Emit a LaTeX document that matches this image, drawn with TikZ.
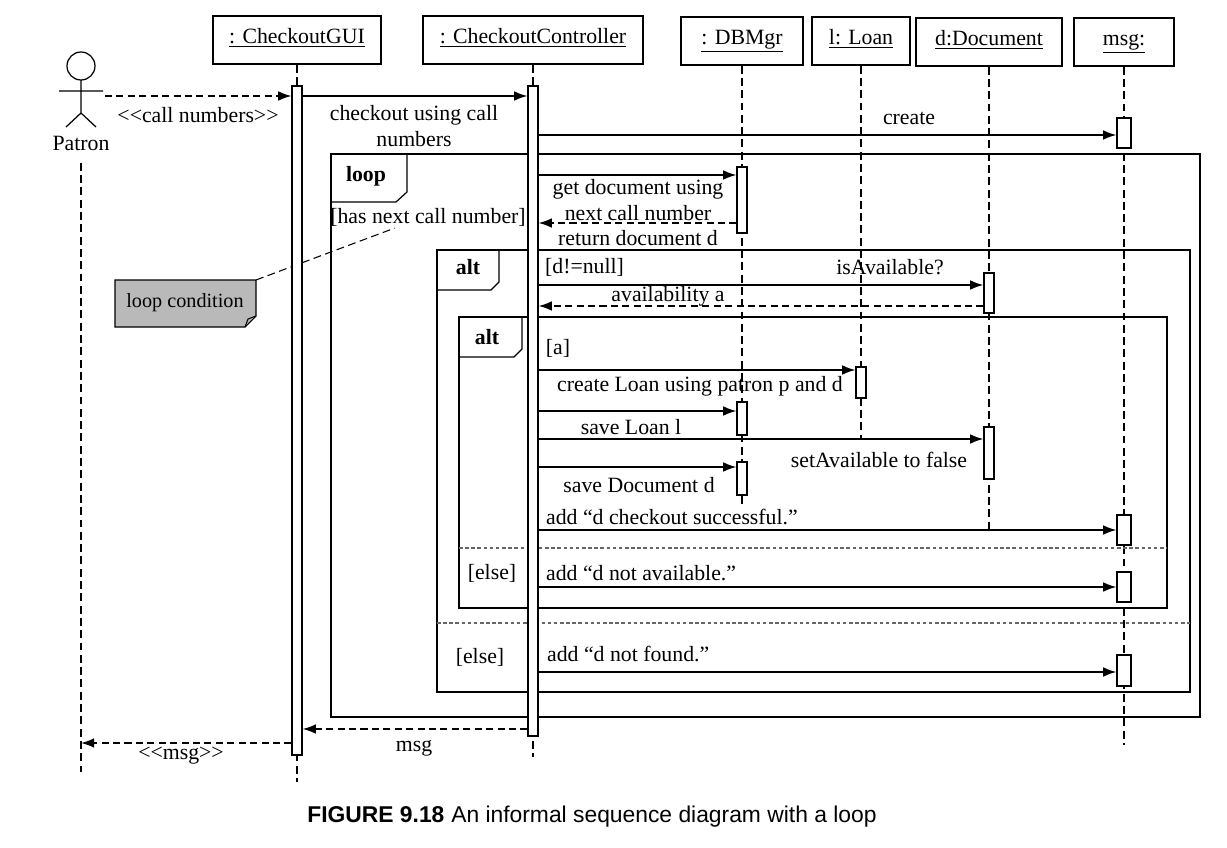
\documentclass[tikz,border=0pt]{standalone}
\usepackage{fontspec}
\setmainfont{Liberation Serif}
\setsansfont{Liberation Sans}
\usetikzlibrary{arrows.meta,fit,positioning}

\begin{document}
\begin{tikzpicture}[x=0.02cm, y=-0.02cm,
	every node/.style = {font=\fontsize{12.4}{14.5}\selectfont, inner sep=1pt},
	obj/.style = {draw, line width=0.7pt, inner sep=0pt, minimum height=0.96cm, text height=9pt, text depth=5pt},
	act/.style = {draw, fill=white, line width=0.7pt, inner sep=0pt},
	life/.style = {line width=0.6pt, dash pattern=on 4.5pt off 2.5pt},
	call/.style = {-{Latex[length=7.5pt,width=5.5pt]}, line width=0.9pt},
	ret/.style = {-{Latex[length=7.5pt,width=5.5pt]}, line width=0.9pt, dash pattern=on 4pt off 2.5pt},
	frame/.style = {line width=0.7pt},
	sep/.style = {line width=0.8pt, dash pattern=on 2pt off 1.5pt, black!60},
	head/.style = {font=\fontsize{12.4}{14.5}\selectfont\bfseries}]
	\path[fill=white, use as bounding box] (0,0) rectangle (1227,848);

	% objects
	\node[obj, minimum width=3.36cm] (gui) at (297,40) {\underline{: CheckoutGUI}};
	\node[obj, minimum width=4.4cm] (ctrl) at (533,40) {\underline{: CheckoutController}};
	\node[obj, minimum width=2.44cm] (db) at (742,41) {\underline{: DBMgr}};
	\node[obj, minimum width=1.96cm] (loan) at (861,41) {\underline{l: Loan}};
	\node[obj, minimum width=2.92cm] (doc) at (989,42) {\underline{d:Document}};
	\node[obj, minimum width=2cm] (msg) at (1124,42) {\underline{msg:}};

	% patron
	\draw[line width=0.7pt] (81,66) circle [radius=0.28cm];
	\draw[line width=0.7pt] (81,80) -- (81,113) (59,91) -- (103,91)
		(66,127) -- (81,113) -- (96,127);
	\node (patron) at (81,143) {Patron};

	% lifelines
	\coordinate (patE) at (81,772);
	\coordinate (guiE) at (297,782);
	\coordinate (ctrlE) at (533,757);
	\coordinate (dbE) at (742,505);
	\coordinate (loanE) at (861,439);
	\coordinate (docE) at (989,530);
	\coordinate (msgE) at (1124,745);
	\draw[life, shorten <=6pt] (patron) -- (patE);
	\draw[life] (gui) -- (guiE);
	\draw[life] (ctrl) -- (ctrlE);
	\draw[life] (db) -- (dbE);
	\draw[life] (loan) -- (loanE);
	\draw[life] (doc) -- (docE);
	\draw[life] (msg) -- (msgE);

	% frames
	\draw[frame] (331,154) rectangle (1200,717);
	\draw[frame] (331,202) -- (396,202) -- (407,192) -- (407,154);
	\draw[frame] (437,250) rectangle (1190,692);
	\draw[frame] (437,290) -- (491,290) -- (499,282) -- (499,250);
	\draw[frame] (459,317) rectangle (1167,608);
	\draw[frame] (459,357) -- (514,357) -- (522,349) -- (522,317);
	\draw[sep] (459,548) -- (1167,548);
	\draw[sep] (437,623) -- (1190,623);
	\node[head] (loop) at (366,176) {loop};
	\node (cond) at (428,217) {[has next call number]};
	\node[head] (alt1) at (468,267) {alt};
	\node[anchor=west] (g1) at (543,267) {[d!=null]};
	\node[head] (alt2) at (487,337) {alt};
	\node (g2) at (558,348) {[a]};
	\node (g3) at (492,573) {[else]};
	\node (g4) at (480,657) {[else]};

	% note
	\path[fill=gray!55, draw, line width=0.6pt] (115,280) -- (256,280) -- (256,316) -- (245,327) -- (115,327) -- cycle;
	\draw[line width=0.6pt] (245,327) -- (248,319) -- (256,316);
	\node[font=\fontsize{11.5}{13}\selectfont] (note) at (185,303) {loop condition};
	\draw[life] (256,280) -- ([xshift=-19pt]cond.south);

	% activations
	\node[act, fit={(292,86) (302,755)}] (guiA) {};
	\node[act, fit={(528,86) (538,736)}] (ctrlA) {};
	\node[act, fit={(1117,118) (1131,148)}] (msgA1) {};
	\node[act, fit={(737,167) (747,233)}] (dbA1) {};
	\node[act, fit={(984,273) (994,313)}] (docA1) {};
	\node[act, fit={(856,367) (866,398)}] (loanA) {};
	\node[act, fit={(737,402) (747,435)}] (dbA2) {};
	\node[act, fit={(984,427) (994,479)}] (docA2) {};
	\node[act, fit={(737,462) (747,495)}] (dbA3) {};
	\node[act, fit={(1117,515) (1131,545)}] (msgA2) {};
	\node[act, fit={(1117,572) (1131,602)}] (msgA3) {};
	\node[act, fit={(1117,655) (1131,686)}] (msgA4) {};

	% messages
	\coordinate (p1) at (105,96);
	\draw[ret] (p1) -- (guiA.west |- p1);
	\draw[call] (guiA.east |- p1) -- (ctrlA.west |- p1);
	\draw[call] (ctrlA.east |- 0,135) -- (msgA1.west |- 0,135);
	\draw[call] (ctrlA.east |- 0,175) -- (dbA1.west |- 0,175);
	\draw[ret] (dbA1.west |- 0,223) -- (ctrlA.east |- 0,223);
	\draw[call] (ctrlA.east |- 0,285) -- (docA1.west |- 0,285);
	\draw[ret] (docA1.west |- 0,306) -- (ctrlA.east |- 0,306);
	\draw[call] (ctrlA.east |- 0,370) -- (loanA.west |- 0,370);
	\draw[call] (ctrlA.east |- 0,411) -- (dbA2.west |- 0,411);
	\draw[call] (ctrlA.east |- 0,439) -- (docA2.west |- 0,439);
	\draw[call] (ctrlA.east |- 0,467) -- (dbA3.west |- 0,467);
	\draw[call] (ctrlA.east |- 0,530) -- (msgA2.west |- 0,530);
	\draw[call] (ctrlA.east |- 0,587) -- (msgA3.west |- 0,587);
	\draw[call] (ctrlA.east |- 0,672) -- (msgA4.west |- 0,672);
	\draw[ret] (ctrlA.west |- 0,729) -- (guiA.east |- 0,729);
	\draw[ret] (guiA.west |- 0,743) -- (patE |- 0,743);

	% message labels
	\node (m1) at (198,115) {<{}<call numbers>{}>};
	\node[align=center] (m2) at (414,126) {checkout using call\\numbers};
	\node (m3) at (909,118) {create};
	\node[align=center] (m4) at (638,200) {get document using\\next call number};
	\node (m5) at (638,238) {return document d};
	\node (m6) at (890,267) {isAvailable?};
	\node (m7) at (668,296) {availability a};
	\node (m8) at (700,386) {create Loan using patron p and d};
	\node (m9) at (631,427) {save Loan l};
	\node (m10) at (879,460) {setAvailable to false};
	\node (m11) at (639,485) {save Document d};
	\node[anchor=west] (m12) at (544,517) {add “d checkout successful.”};
	\node[anchor=west] (m13) at (544,573) {add “d not available.”};
	\node[anchor=west] (m14) at (545,654) {add “d not found.”};
	\node (m15) at (414,748) {msg};
	\node (m16) at (181,756) {<{}<msg>{}>};

	\node[font=\fontsize{13}{15}\selectfont\sffamily] (cap) at (592,817) {\textbf{FIGURE 9.18}\hspace{0.3em}An informal sequence diagram with a loop};
\end{tikzpicture}
\end{document}
